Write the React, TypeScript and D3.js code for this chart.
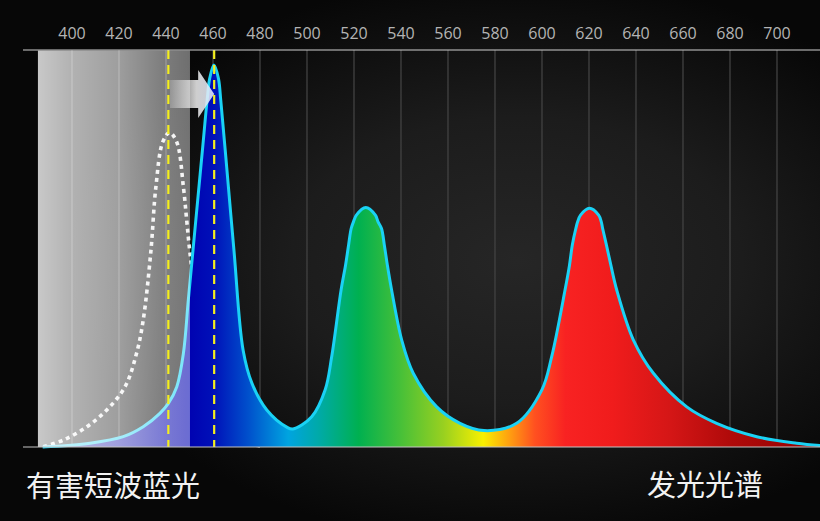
import React from 'react';
import * as d3 from 'd3';

// ---- data ----
const TICKS = [400, 420, 440, 460, 480, 500, 520, 540, 560, 580, 600, 620, 640, 660, 680, 700];

// emission spectrum (nm, relative intensity)
const SPECTRUM_NM = [
  387.5, 407.7, 421.8, 430.3, 437.4, 441, 444.6, 447.4, 449.5, 451.5, 453.5, 455.5, 457.5, 458.6,
  460.4, 462.3, 463.3, 465.2, 468.9, 472.8, 476.5, 482.9, 491.4, 494,
  502, 507.7, 510.5, 514.5, 516.4, 517.7, 518.8, 519.8, 521.0, 525.0, 529.1, 530.2, 531.7, 532.9, 534.2, 536,
  540.3, 545.2, 555.2, 565.1, 575.3,
  589.2, 599.9, 604.1, 609.8, 611.7, 612.9, 614.4, 615.2, 616.4, 620.2, 624.1, 625.2, 625.8, 627.4, 629.3,
  631.8, 638.9, 647.4, 661.6, 674.3, 691.4, 708.4, 722,
];
const SPECTRUM_VAL = [
  0, 1.0, 2.7, 5.3, 8.8, 11.4, 15.8, 24.5, 38.5, 51.6, 64.7, 77.7, 90.8, 96.5,
  100, 96.5, 90.8, 77.7, 51.6, 25.4, 16.8, 9.7, 5.2, 4.7,
  7.9, 14.9, 23.6, 41.1, 47.6, 52.9, 57.2, 59.0, 60.7, 62.7, 60.7, 59.0, 57.2, 52.9, 47.6, 41.1,
  28, 19.3, 10.5, 6.2, 4.3,
  6.2, 14.9, 23.6, 41.1, 47.6, 52.9, 57.2, 59.0, 60.7, 62.5, 60.7, 59.0, 57.2, 52.9, 47.6,
  41.1, 28, 19.3, 10.5, 6.2, 2.7, 1.0, 0.2,
];

// harmful short-wave blue light curve (dotted)
const HAZARD_NM = [387.8, 396.3, 406.3, 414.8, 422.6, 427.5, 430.3, 433.5, 435.7, 438.6, 441.5, 444.6, 447.4, 448.8, 450.2, 454.5, 460.9, 471.5, 480];
const HAZARD_VAL = [0.1, 1.8, 5.3, 9.7, 15.8, 24.6, 33.2, 50.8, 68.1, 79.8, 82.3, 79.8, 68.1, 59.4, 50.8, 30.6, 9.7, 1.8, 0.3];

const HAZARD_BAND = [385.5, 450.2];
const PEAK_MARKERS = [441, 460.5];
const LEFT_LABEL = '有害短波蓝光';
const RIGHT_LABEL = '发光光谱';

// spectral fill colours by wavelength
const FILL_STOPS: [number, string][] = [
  [386, '#1414a0'], [448, '#0000b0'], [460, '#0010b8'], [475, '#0050cc'], [492, '#00a4e0'],
  [505, '#00aaa8'], [522, '#00b050'], [540, '#48c038'], [558, '#98d020'], [575, '#f8f000'],
  [586, '#ffa010'], [597, '#ff5020'], [610, '#f82222'], [630, '#f01c1c'], [655, '#d41616'],
  [680, '#b00a0a'], [722, '#900000'],
];

const W = 820;
const H = 521;
const TOP = 50;
const BASE = 447;

export default function App() {
  const x = d3.scaleLinear().domain([400, 700]).range([72, 777]);
  const y = d3.scaleLinear().domain([0, 100]).range([BASE, 65]);

  const spec = SPECTRUM_NM.map((nm, i) => ({ nm, v: SPECTRUM_VAL[i] }));
  const haz = HAZARD_NM.map((nm, i) => ({ nm, v: HAZARD_VAL[i] }));

  const curve = d3.curveCatmullRom.alpha(0.5);
  const area = d3
    .area<{ nm: number; v: number }>()
    .x((d) => x(d.nm))
    .y0(y(0))
    .y1((d) => y(d.v))
    .curve(curve);
  const line = d3
    .line<{ nm: number; v: number }>()
    .x((d) => x(d.nm))
    .y((d) => y(d.v))
    .curve(curve);

  const gx0 = x(FILL_STOPS[0][0]);
  const gx1 = x(FILL_STOPS[FILL_STOPS.length - 1][0]);

  const bandX0 = x(HAZARD_BAND[0]);
  const bandX1 = x(HAZARD_BAND[1]);

  // arrow from hazard peak to emission peak
  const ax0 = x(441.7);
  const axTip = x(460.5);
  const axHead = axTip - 16;
  const ay = 94;
  const arrowPath = `M${ax0},${ay - 14} L${axHead},${ay - 14} L${axHead},${ay - 24} L${axTip},${ay} L${axHead},${ay + 24} L${axHead},${ay + 14} L${ax0},${ay + 14} Z`;

  return (
    <svg
      width={W}
      height={H}
      style={{ position: 'absolute', left: 0, top: 0, display: 'block' }}
    >
      <defs>
        <radialGradient id="bg" cx="0.63" cy="0.5" r="0.55">
          <stop offset="0" stopColor="#262626" />
          <stop offset="0.5" stopColor="#1c1c1c" />
          <stop offset="1" stopColor="#070707" />
        </radialGradient>
        <linearGradient id="specFill" gradientUnits="userSpaceOnUse" x1={gx0} x2={gx1} y1={0} y2={0}>
          {FILL_STOPS.map(([nm, c], i) => (
            <stop key={i} offset={(x(nm) - gx0) / (gx1 - gx0)} stopColor={c} />
          ))}
        </linearGradient>
        <linearGradient id="band" x1="0" x2="1" y1="0" y2="0">
          <stop offset="0" stopColor="#ffffff" stopOpacity={0.78} />
          <stop offset="0.22" stopColor="#ffffff" stopOpacity={0.69} />
          <stop offset="0.53" stopColor="#ffffff" stopOpacity={0.61} />
          <stop offset="0.84" stopColor="#ffffff" stopOpacity={0.47} />
          <stop offset="1" stopColor="#ffffff" stopOpacity={0.42} />
        </linearGradient>
        <linearGradient id="arrow" gradientUnits="userSpaceOnUse" x1={ax0} x2={axTip} y1={0} y2={0}>
          <stop offset="0" stopColor="#ffffff" stopOpacity={0.2} />
          <stop offset="0.6" stopColor="#e4e4e4" stopOpacity={0.9} />
          <stop offset="1" stopColor="#e8eeff" stopOpacity={0.85} />
        </linearGradient>
      </defs>

      <rect x={0} y={0} width={W} height={H} fill="url(#bg)" />

      {TICKS.map((t) => (
        <line key={t} x1={x(t)} x2={x(t)} y1={TOP} y2={BASE} stroke="#424242" strokeWidth={1.3} />
      ))}

      <path
        d={line(haz) || ''}
        fill="none"
        stroke="#ececec"
        strokeWidth={3.6}
        strokeDasharray="4,4"
      />

      <path d={area(spec) || ''} fill="url(#specFill)" />
      <path d={line(spec) || ''} fill="none" stroke="#1ad2f5" strokeWidth={3} strokeLinejoin="round" />

      <rect x={bandX0} y={TOP + 0.5} width={bandX1 - bandX0} height={BASE - TOP - 0.5} fill="url(#band)" />

      <path d={arrowPath} fill="url(#arrow)" />

      {PEAK_MARKERS.map((p) => (
        <line
          key={p}
          x1={x(p)}
          x2={x(p)}
          y1={TOP}
          y2={BASE}
          stroke="#f4ee1e"
          strokeWidth={2.2}
          strokeDasharray="9,6"
        />
      ))}

      <line x1={23} x2={W} y1={TOP} y2={TOP} stroke="#cfcfcf" strokeWidth={1.2} />
      <line x1={23} x2={W} y1={BASE} y2={BASE} stroke="#c4c4c4" strokeWidth={1.2} />

      {TICKS.map((t) => (
        <text
          key={t}
          x={x(t)}
          y={38.5}
          textAnchor="middle"
          fontFamily="'Open Sans', sans-serif"
          fontSize={16}
          fill="#b4b4b4"
        >
          {t}
        </text>
      ))}

      <text x={26} y={497} fontFamily="'Noto Sans CJK SC', sans-serif" fontSize={29} fill="#f2f2f2">
        {LEFT_LABEL}
      </text>
      <text x={647} y={496} fontFamily="'Noto Sans CJK SC', sans-serif" fontSize={29} fill="#f2f2f2">
        {RIGHT_LABEL}
      </text>
    </svg>
  );
}
